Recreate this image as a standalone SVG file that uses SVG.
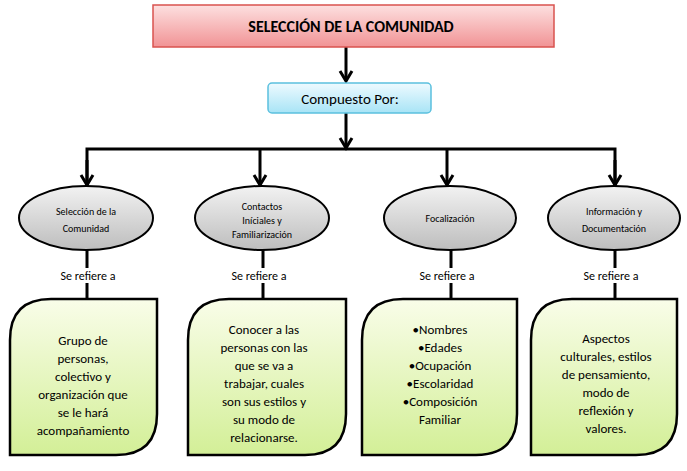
<svg xmlns="http://www.w3.org/2000/svg" width="687" height="471" viewBox="0 0 687 471">
<defs>
<linearGradient id="gr" x1="0" y1="0" x2="0" y2="1"><stop offset="0" stop-color="#fde0e0"/><stop offset="1" stop-color="#f19395"/></linearGradient>
<linearGradient id="gb" x1="0" y1="0" x2="0" y2="1"><stop offset="0" stop-color="#eefaff"/><stop offset="1" stop-color="#a8e4f6"/></linearGradient>
<linearGradient id="gg" x1="0" y1="0" x2="0" y2="1"><stop offset="0" stop-color="#f2f2f2"/><stop offset="1" stop-color="#bdbdbd"/></linearGradient>
<linearGradient id="gn" x1="0" y1="0" x2="0" y2="1"><stop offset="0" stop-color="#f9fde9"/><stop offset="1" stop-color="#d3ef97"/></linearGradient>
<marker id="ah" markerWidth="16" markerHeight="16" refX="13" refY="8" orient="auto" markerUnits="userSpaceOnUse" viewBox="0 0 16 16"><path d="M3,2 L13,8 L3,14" fill="none" stroke="#000" stroke-width="3"/></marker>
</defs>
<style>
.t{font-family:Calibri,"Liberation Sans",Arial,sans-serif;fill:#000;text-anchor:middle}
.el{fill:url(#gg);stroke:#000;stroke-width:2}
.bx{fill:url(#gn);stroke:#000;stroke-width:2.5}
.c{stroke:#000;stroke-width:3;fill:none}
</style>
<g id="connectors">
<line class="c" x1="346" y1="47" x2="346" y2="81" marker-end="url(#ah)"/>
<line class="c" x1="346" y1="113" x2="346" y2="148" marker-end="url(#ah)"/>
<polyline class="c" points="87,186 87,149 615,149 615,186"/>
<line class="c" x1="87" y1="160" x2="87" y2="185" marker-end="url(#ah)"/>
<line class="c" x1="260" y1="149" x2="260" y2="185" marker-end="url(#ah)"/>
<line class="c" x1="447" y1="149" x2="447" y2="185" marker-end="url(#ah)"/>
<line class="c" x1="615" y1="160" x2="615" y2="185" marker-end="url(#ah)"/>
<line class="c" x1="87" y1="250" x2="87" y2="298"/>
<line class="c" x1="263" y1="250" x2="263" y2="298"/>
<line class="c" x1="451" y1="250" x2="451" y2="298"/>
<line class="c" x1="615" y1="250" x2="615" y2="298"/>
<g class="t" font-size="12">
<rect x="52" y="268" width="70" height="15" fill="#fff"/><text x="88" y="280">Se refiere a</text>
<rect x="225" y="268" width="70" height="15" fill="#fff"/><text x="259" y="280">Se refiere a</text>
<rect x="413" y="268" width="70" height="15" fill="#fff"/><text x="447" y="280">Se refiere a</text>
<rect x="577" y="268" width="70" height="15" fill="#fff"/><text x="611" y="280">Se refiere a</text>
</g>
</g>
<g id="title"><rect x="153" y="5" width="401" height="42" fill="url(#gr)" stroke="#d9534f" stroke-width="1.5"/>
<text class="t" x="351" y="32" font-size="16" font-weight="bold">SELECCIÓN DE LA COMUNIDAD</text></g>
<g id="compuesto"><rect x="268" y="83" width="163" height="30" rx="4" fill="url(#gb)" stroke="#5bc0de" stroke-width="1.5"/>
<text class="t" x="350" y="104" font-size="15">Compuesto Por:</text></g>
<g id="e1"><ellipse class="el" cx="86" cy="218" rx="67" ry="32"/><g class="t" font-size="10"><text x="86" y="215">Selección de la</text><text x="86" y="232">Comunidad</text></g></g>
<g id="e2"><ellipse class="el" cx="262" cy="218" rx="67" ry="32"/><g class="t" font-size="10"><text x="262" y="210">Contactos</text><text x="262" y="224">Iníciales y</text><text x="262" y="238">Familiarización</text></g></g>
<g id="e3"><ellipse class="el" cx="450" cy="218" rx="66" ry="32"/><g class="t" font-size="10"><text x="450" y="222">Focalización</text></g></g>
<g id="e4"><ellipse class="el" cx="614" cy="218" rx="66" ry="32"/><g class="t" font-size="10"><text x="614" y="215">Información y</text><text x="614" y="232">Documentación</text></g></g>
<g id="b1"><path class="bx" d="M10,455 V340 Q10,299 51,299 H157 V414 Q157,455 116,455 Z"/>
<g class="t" font-size="13"><text x="83" y="345">Grupo de</text><text x="83" y="363">personas,</text><text x="83" y="381">colectivo y</text><text x="83" y="399">organización que</text><text x="83" y="417">se le hará</text><text x="83" y="435">acompañamiento</text></g></g>
<g id="b2"><path class="bx" d="M188,455 V340 Q188,299 229,299 H346 V414 Q346,455 305,455 Z"/>
<g class="t" font-size="13"><text x="264" y="334">Conocer a las</text><text x="264" y="352">personas con las</text><text x="264" y="370">que se va a</text><text x="264" y="388">trabajar, cuales</text><text x="264" y="406">son sus estilos y</text><text x="264" y="424">su modo de</text><text x="264" y="442">relacionarse.</text></g></g>
<g id="b3"><path class="bx" d="M362,455 V340 Q362,299 403,299 H517 V414 Q517,455 476,455 Z"/>
<g class="t" font-size="13"><text x="440" y="334">•Nombres</text><text x="440" y="352">•Edades</text><text x="440" y="370">•Ocupación</text><text x="440" y="388">•Escolaridad</text><text x="440" y="406">•Composición</text><text x="440" y="424">Familiar</text></g></g>
<g id="b4"><path class="bx" d="M531,455 V340 Q531,299 572,299 H677 V414 Q677,455 636,455 Z"/>
<g class="t" font-size="13"><text x="606" y="343">Aspectos</text><text x="606" y="361">culturales, estilos</text><text x="606" y="379">de pensamiento,</text><text x="606" y="397">modo de</text><text x="606" y="415">reflexión y</text><text x="606" y="433">valores.</text></g></g>
</svg>
